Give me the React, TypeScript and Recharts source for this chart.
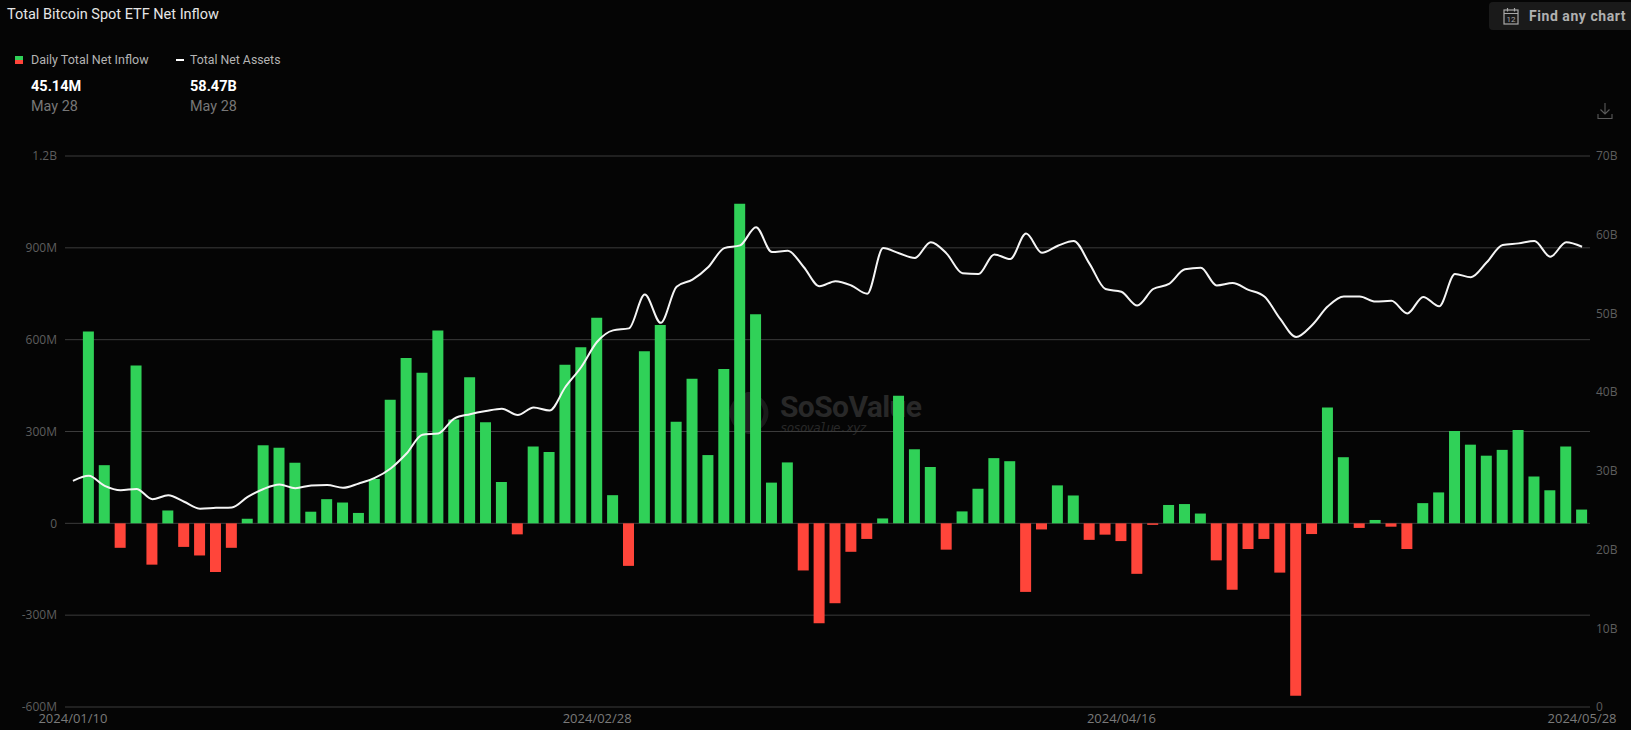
import { Bar, CartesianGrid, Cell, ComposedChart, Line, XAxis, YAxis } from 'recharts';

const dates = [
  '2024/01/10', '2024/01/11', '2024/01/12', '2024/01/16', '2024/01/17', '2024/01/18', '2024/01/19', '2024/01/22',
  '2024/01/23', '2024/01/24', '2024/01/25', '2024/01/26', '2024/01/29', '2024/01/30', '2024/01/31', '2024/02/01',
  '2024/02/02', '2024/02/05', '2024/02/06', '2024/02/07', '2024/02/08', '2024/02/09', '2024/02/12', '2024/02/13',
  '2024/02/14', '2024/02/15', '2024/02/16', '2024/02/20', '2024/02/21', '2024/02/22', '2024/02/23', '2024/02/26',
  '2024/02/27', '2024/02/28', '2024/02/29', '2024/03/01', '2024/03/04', '2024/03/05', '2024/03/06', '2024/03/07',
  '2024/03/08', '2024/03/11', '2024/03/12', '2024/03/13', '2024/03/14', '2024/03/15', '2024/03/18', '2024/03/19',
  '2024/03/20', '2024/03/21', '2024/03/22', '2024/03/25', '2024/03/26', '2024/03/27', '2024/03/28', '2024/04/01',
  '2024/04/02', '2024/04/03', '2024/04/04', '2024/04/05', '2024/04/08', '2024/04/09', '2024/04/10', '2024/04/11',
  '2024/04/12', '2024/04/15', '2024/04/16', '2024/04/17', '2024/04/18', '2024/04/19', '2024/04/22', '2024/04/23',
  '2024/04/24', '2024/04/25', '2024/04/26', '2024/04/29', '2024/04/30', '2024/05/01', '2024/05/02', '2024/05/03',
  '2024/05/06', '2024/05/07', '2024/05/08', '2024/05/09', '2024/05/10', '2024/05/13', '2024/05/14', '2024/05/15',
  '2024/05/16', '2024/05/17', '2024/05/20', '2024/05/21', '2024/05/22', '2024/05/23', '2024/05/24', '2024/05/28',
];

// daily net inflow, millions (nothing reported on the first day)
const inflow = [
  null, 627, 190, -80, 516, -135, 42, -77, -105, -159, -80, 15, 255, 247, 198, 38,
  79, 68, 34, 145, 404, 540, 492, 630, 339, 477, 330, 135, -36, 251, 233, 518,
  575, 672, 92, -139, 562, 648, 332, 472, 223, 504, 1044, 683, 133, 199, -154, -326,
  -261, -93, -51, 16, 417, 242, 184, -86, 39, 113, 213, 203, -224, -20, 124, 91,
  -54, -37, -58, -165, -5, 60, 63, 32, -121, -217, -84, -51, -161, -563, -35, 378,
  216, -15, 11, -11, -84, 66, 101, 302, 257, 221, 240, 305, 153, 108, 251, 45,
];

// total net assets, billions
const assets = [
  28.73, 29.37, 28.1, 27.55, 27.7, 26.4, 26.9, 26.07, 25.2, 25.3, 25.35, 26.7, 27.7, 28.27, 27.8, 28.15,
  28.2, 27.85, 28.4, 29.1, 30.3, 32.2, 34.6, 34.75, 36.65, 37.2, 37.6, 37.9, 37.1, 38.05, 37.66, 40.65,
  43.2, 46.4, 47.85, 48.1, 52.4, 48.8, 53.4, 54.3, 55.9, 58.3, 58.65, 60.95, 57.8, 57.95, 55.9, 53.45,
  54.1, 53.55, 52.5, 58.3, 57.65, 57.05, 59.05, 57.6, 55.1, 55.0, 57.5, 56.9, 60.15, 57.7, 58.6, 59.2,
  56.3, 53.1, 52.75, 51.0, 53.1, 53.75, 55.6, 55.8, 53.55, 53.85, 53.0, 52.15, 49.3, 47.0, 48.5, 50.9,
  52.15, 52.15, 51.5, 51.6, 50.0, 52.1, 50.9, 55.0, 54.6, 56.5, 58.7, 58.9, 59.2, 57.2, 59.05, 58.47,
];

const leftTicks = [-600, -300, 0, 300, 600, 900, 1200];
const rightTicks = [0, 10, 20, 30, 40, 50, 60, 70];
const dateTicks = ['2024/01/10', '2024/02/28', '2024/04/16', '2024/05/28'];

const data = dates.map((date, i) => ({ date, inflow: inflow[i], assets: assets[i] }));

const UP = '#30d158';
const DOWN = '#ff453a';
const FONT = 'Roboto, sans-serif';

function formatLeft(v: number) {
  if (v === 1200) return '1.2B';
  return v === 0 ? '0' : `${v}M`;
}

function formatRight(v: number) {
  return v === 0 ? '0' : `${v}B`;
}

function text(left: number, top: number, size: number, color: string, weight = 400): React.CSSProperties {
  return { position: 'absolute', left, top, fontSize: size, lineHeight: `${size + 4}px`, color, fontWeight: weight, whiteSpace: 'nowrap' };
}

function Watermark() {
  return (
    <>
      <svg style={{ position: 'absolute', left: 728, top: 390 }} width="42" height="46" viewBox="0 0 42 46">
        <circle cx="21" cy="23" r="17" fill="none" stroke="#1a1a1a" strokeWidth="5" />
        <rect x="15" y="2" width="12" height="42" rx="5" fill="#1f1f1f" />
      </svg>
      <div style={{ ...text(780, 390, 30, '#282828', 700), letterSpacing: -0.6 }}>SoSoValue</div>
      <div style={{ ...text(780, 420, 12.5, '#282828'), fontFamily: '"DejaVu Sans Mono", monospace', fontStyle: 'italic', letterSpacing: -0.9 }}>sosovalue.xyz</div>
    </>
  );
}

export default function App() {
  return (
    <div style={{ position: 'fixed', left: 0, top: 0, width: 1631, height: 730, background: '#050505', fontFamily: FONT, overflow: 'hidden' }}>
      <div style={text(7, 6, 14.5, '#e6e6e6')}>Total Bitcoin Spot ETF Net Inflow</div>

      <div style={{ position: 'absolute', left: 15, top: 56, width: 8, height: 4, background: UP }} />
      <div style={{ position: 'absolute', left: 15, top: 60, width: 8, height: 4, background: DOWN }} />
      <div style={text(31, 52, 12.5, '#b4b4b4')}>Daily Total Net Inflow</div>
      <div style={text(31, 78, 14.5, '#ffffff', 700)}>45.14M</div>
      <div style={text(31, 98, 14.4, '#777777')}>May 28</div>

      <div style={{ position: 'absolute', left: 176, top: 59, width: 8, height: 2, background: '#ffffff' }} />
      <div style={text(190, 52, 12.3, '#b4b4b4')}>Total Net Assets</div>
      <div style={text(190, 78, 14.5, '#ffffff', 700)}>58.47B</div>
      <div style={text(190, 98, 14.4, '#777777')}>May 28</div>

      <div style={{ position: 'absolute', left: 1489, top: 2, width: 150, height: 28, borderRadius: 4, background: '#1a1a1a' }} />
      <svg style={{ position: 'absolute', left: 1503, top: 7 }} width="16" height="18" viewBox="0 0 16 18">
        <rect x="1" y="3" width="14" height="14" fill="none" stroke="#a8a8a8" strokeWidth="1.2" />
        <path d="M1 6.5H15M4.5 1V4.5M11.5 1V4.5" stroke="#a8a8a8" strokeWidth="1.2" />
        <text x="8" y="15" fontSize="8" fontFamily={FONT} textAnchor="middle" fill="#a8a8a8">12</text>
      </svg>
      <div style={{ ...text(1529, 7, 14, '#b0b0b0', 700), letterSpacing: 0.55 }}>Find any chart</div>

      <svg style={{ position: 'absolute', left: 1597, top: 102 }} width="16" height="18" viewBox="0 0 16 18">
        <path d="M8 1V12M3.5 7.5L8 12L12.5 7.5M1 12V16.5H15V12" fill="none" stroke="#5a5a5a" strokeWidth="1.1" />
      </svg>

      <Watermark />

      <div style={{ position: 'absolute', left: 0, top: 0 }}>
        <ComposedChart
          width={1631}
          height={730}
          data={data}
          margin={{ top: 156, right: 0, bottom: 0, left: 0 }}
          barCategoryGap={0}
        >
          <CartesianGrid horizontal vertical={false} stroke="#3c3c3c" strokeWidth={1} syncWithTicks yAxisId="left" />
          <XAxis
            dataKey="date"
            ticks={dateTicks}
            interval={0}
            height={23}
            axisLine={false}
            tickLine={false}
            tickMargin={1}
            tick={{ fill: '#7a7a7a', fontSize: 13, fontFamily: '"Open Sans", sans-serif' }}
          />
          <YAxis
            yAxisId="left"
            domain={[-600, 1200]}
            ticks={leftTicks}
            tickFormatter={formatLeft}
            width={65}
            axisLine={false}
            tickLine={false}
            tickMargin={2}
            tick={{ fill: '#5e5e5e', fontSize: 12, fontFamily: '"Open Sans", sans-serif' }}
          />
          <YAxis
            yAxisId="right"
            orientation="right"
            domain={[0, 70]}
            ticks={rightTicks}
            tickFormatter={formatRight}
            width={41}
            axisLine={false}
            tickLine={false}
            tickMargin={0}
            tick={{ fill: '#5e5e5e', fontSize: 12, fontFamily: '"Open Sans", sans-serif' }}
          />
          <Bar yAxisId="left" dataKey="inflow" barSize={11} isAnimationActive={false}>
            {data.map((d) => (
              <Cell key={d.date} fill={(d.inflow ?? 0) >= 0 ? UP : DOWN} />
            ))}
          </Bar>
          <Line
            yAxisId="right"
            type="monotone"
            dataKey="assets"
            stroke="#f5f5f5"
            strokeWidth={2}
            dot={false}
            activeDot={false}
            isAnimationActive={false}
          />
        </ComposedChart>
      </div>
    </div>
  );
}
